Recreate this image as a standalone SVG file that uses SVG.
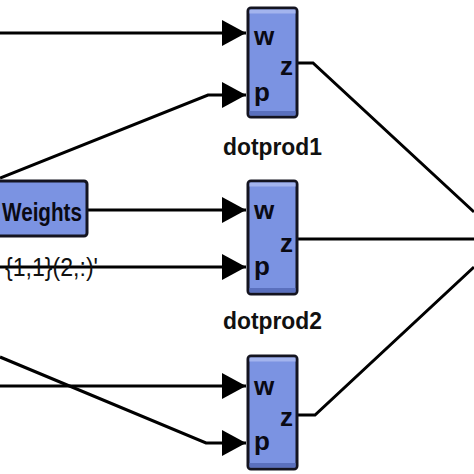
<svg xmlns="http://www.w3.org/2000/svg" width="474" height="474" viewBox="0 0 474 474">
<style>
.box{fill:#7b93e2;stroke:#141420;stroke-width:3}
.hi{fill:#a3b4ee}
.lo{fill:#5a70be}
.port{font-family:"Liberation Sans",Arial,sans-serif;font-weight:bold;font-size:26px;fill:#0a0a14}
.lbl{font-family:"Liberation Sans",Arial,sans-serif;font-weight:bold;font-size:24px;fill:#111}
.sig{font-family:"Liberation Sans",Arial,sans-serif;font-size:25px;fill:#111}
.wire{fill:none;stroke:#000;stroke-width:3;stroke-linejoin:miter}
</style>
<defs>
<marker id="ah" viewBox="0 0 24 26" refX="24" refY="13" markerWidth="24" markerHeight="26" markerUnits="userSpaceOnUse" orient="auto">
<path d="M0,0 L24,13 L0,26 Z" fill="#000"/>
</marker>
</defs>
<rect width="474" height="474" fill="#fff"/>
<g id="connectors">
<path class="wire" d="M0,33 H246" marker-end="url(#ah)"/>
<path class="wire" d="M0,178 L208,95 H246" marker-end="url(#ah)"/>
<path class="wire" d="M88,210 H246" marker-end="url(#ah)"/>
<path class="wire" d="M0,267 H246" marker-end="url(#ah)"/>
<path class="wire" d="M0,386 H246" marker-end="url(#ah)"/>
<path class="wire" d="M0,357 L206,443 H246" marker-end="url(#ah)"/>
<path class="wire" d="M298,63 H313 L474,212"/>
<path class="wire" d="M298,239 H474"/>
<path class="wire" d="M298,415 H315 L474,267"/>
</g>
<g id="weights">
<rect class="box" x="-10" y="181" width="97" height="55" rx="3"/>
<text class="port" x="2" y="221" font-size="24" textLength="80" lengthAdjust="spacingAndGlyphs">Weights</text>
</g>
<text class="sig" x="5" y="276" textLength="93" lengthAdjust="spacingAndGlyphs">{1,1}(2,:)'</text>
<g id="dotprod1">
<rect class="box" x="248" y="8" width="49" height="109" rx="3"/>
<rect class="hi" x="249.5" y="9.5" width="46" height="4"/>
<rect class="lo" x="249.5" y="111" width="46" height="4.5"/>
<text class="port" x="254" y="45">w</text>
<text class="port" x="280" y="75">z</text>
<text class="port" x="254" y="101">p</text>
<text class="lbl" x="223" y="155" textLength="99" lengthAdjust="spacingAndGlyphs">dotprod1</text>
</g>
<g id="dotprod2">
<rect class="box" x="248" y="181" width="49" height="113" rx="3"/>
<rect class="hi" x="249.5" y="182.5" width="46" height="4"/>
<rect class="lo" x="249.5" y="288" width="46" height="4.5"/>
<text class="port" x="254" y="219">w</text>
<text class="port" x="280" y="252">z</text>
<text class="port" x="254" y="275">p</text>
<text class="lbl" x="223" y="329" textLength="99" lengthAdjust="spacingAndGlyphs">dotprod2</text>
</g>
<g id="dotprod3">
<rect class="box" x="248" y="356" width="49" height="113" rx="3"/>
<rect class="hi" x="249.5" y="357.5" width="46" height="4"/>
<rect class="lo" x="249.5" y="463" width="46" height="4.5"/>
<text class="port" x="254" y="395">w</text>
<text class="port" x="280" y="426">z</text>
<text class="port" x="254" y="450">p</text>
</g>
</svg>
